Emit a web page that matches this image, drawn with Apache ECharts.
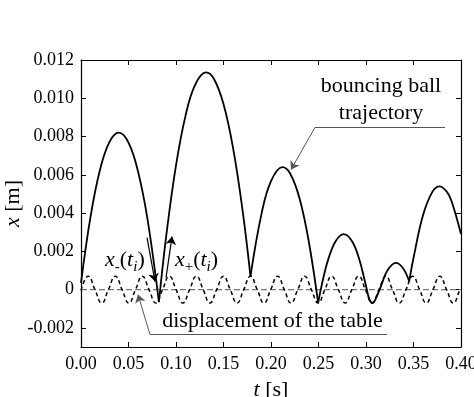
<!DOCTYPE html>
<html>
<head>
<meta charset="utf-8">
<script src="https://cdn.jsdelivr.net/npm/echarts@6/dist/echarts.min.js"></script>
<style>
  html, body { margin: 0; padding: 0; background: #fff; }
  #chart { width: 474px; height: 397px; }
</style>
</head>
<body>
<div id="chart"></div>
<script>
// tick labels
const xTickValues = [0, 0.05, 0.1, 0.15, 0.2, 0.25, 0.3, 0.35, 0.4];
const yTickValues = [-0.002, 0, 0.002, 0.004, 0.006, 0.008, 0.01, 0.012];

// displacement of the table [t, x]
const tableDisplacement = [
  [0, -0.00005], [0.0076, 0.0007],
  [0.0147, 0], [0.0218, -0.0007], [0.0289, 0], [0.0361, 0.0007],
  [0.0432, 0], [0.0503, -0.0007], [0.0574, 0], [0.0645, 0.0007],
  [0.0716, 0], [0.0787, -0.0007], [0.0858, 0], [0.093, 0.0007],
  [0.1001, 0], [0.1072, -0.0007], [0.1143, 0], [0.1215, 0.0007],
  [0.1286, 0], [0.1357, -0.0007], [0.1428, 0], [0.1499, 0.0007],
  [0.1571, 0], [0.1642, -0.0007], [0.1713, 0], [0.1784, 0.0007],
  [0.1855, 0], [0.1926, -0.0007], [0.1997, 0], [0.2069, 0.0007],
  [0.214, 0], [0.2211, -0.0007], [0.2282, 0], [0.2354, 0.0007],
  [0.2425, 0], [0.2496, -0.0007], [0.2567, 0], [0.2638, 0.0007],
  [0.2709, 0], [0.278, -0.0007], [0.2851, 0], [0.2923, 0.0007],
  [0.2994, 0], [0.3065, -0.0007], [0.3136, 0], [0.3208, 0.0007],
  [0.3279, 0], [0.335, -0.0007], [0.3421, 0], [0.3492, 0.0007],
  [0.3564, 0], [0.3634, -0.0007], [0.3705, 0], [0.3777, 0.0007],
  [0.3848, 0], [0.3919, -0.0007], [0.399, 0], [0.4, 0.00005]
];

// bouncing ball trajectory, one array per flight between impacts [t, x]
const ballFlight1 = [[0, 0.00035], [0.01, 0.0038], [0.02, 0.00626], [0.03, 0.00772], [0.0398, 0.0082],
  [0.05, 0.00768], [0.06, 0.00618], [0.07, 0.00368], [0.082, -0.00065]];
const ballFlight2 = [[0.082, -0.00065], [0.09, 0.00292], [0.1, 0.00649], [0.11, 0.00908], [0.12, 0.01069],
  [0.1316, 0.01135], [0.14, 0.01101], [0.15, 0.0097], [0.16, 0.00742], [0.17, 0.00417], [0.1784, 0.0007]];
const ballFlight3 = [[0.1784, 0.0007], [0.19, 0.00396], [0.2, 0.00567], [0.212, 0.0064], [0.22, 0.00608],
  [0.23, 0.00477], [0.24, 0.00245], [0.2496, -0.0007]];
const ballFlight4 = [[0.2496, -0.0007], [0.255, 0.00059], [0.26, 0.00154], [0.268, 0.00253], [0.2766, 0.0029],
  [0.285, 0.00255], [0.2925, 0.00165], [0.2995, 0.0003], [0.3035, -0.0005], [0.3068, -0.0007], [0.31, -0.0005],
  [0.316, 0.00021], [0.3225, 0.001], [0.3315, 0.0014], [0.339, 0.00112], [0.3455, 0.00043]];
const ballFlight5 = [[0.3455, 0.00043], [0.35, 0.00165], [0.36, 0.00388], [0.37, 0.00512], [0.3775, 0.0054],
  [0.385, 0.00512], [0.39, 0.00463], [0.4, 0.0029]];
const ballFlights = [ballFlight1, ballFlight2, ballFlight3, ballFlight4, ballFlight5];

// annotations (leader lines and labels, in data units)
const leaderBallLine = [[0.3832, 0.00848], [0.2463, 0.00848]];
const leaderBallArrow = [[0.2463, 0.00848], [0.2211, 0.00627]];
const leaderTableLine = [[0.3221, -0.00235], [0.0726, -0.00235]];
const leaderTableArrow = [[0.0726, -0.00235], [0.06, -0.00026]];
const arrowMinus = [[0.0695, 0.00272], [0.0779, 0.00042]];
const arrowPlus = [[0.0895, 0.00063], [0.0958, 0.00277]];

const serif = "Liberation Serif";
const chart = echarts.init(document.getElementById("chart"));

const frameAxis = {
  axisLine: { show: true, onZero: false, lineStyle: { color: "#000", width: 1.2 } },
  axisTick: { show: true, inside: true, length: 5, lineStyle: { color: "#000", width: 1 } },
  splitLine: { show: false },
};

const ballSeries = ballFlights.map((flight) => {
  return {
    type: "line",
    data: flight,
    smooth: 0.4,
    symbol: "none",
    lineStyle: { color: "#000", width: 1.8 },
    z: 4,
  };
});

chart.setOption({
  animation: false,
  grid: { left: 81, right: 13, top: 60, bottom: 50, containLabel: false, outerBoundsMode: "none" },
  xAxis: [
    {
      ...frameAxis,
      type: "value",
      min: 0,
      max: 0.4,
      interval: 0.05,
      position: "bottom",
      axisLabel: {
        color: "#000",
        fontFamily: serif,
        fontSize: 18,
        margin: 8,
        formatter: (v) => v.toFixed(2),
      },
      name: "{i|t} [s]",
      nameLocation: "middle",
      nameMoveOverlap: false,
      nameGap: 32,
      nameTextStyle: {
        color: "#000",
        fontFamily: serif,
        fontSize: 22,
        rich: { i: { fontStyle: "italic", fontFamily: serif, fontSize: 22 } },
      },
    },
    {
      ...frameAxis,
      type: "value",
      min: 0,
      max: 0.4,
      interval: 0.05,
      position: "top",
      axisLabel: { show: false },
    },
  ],
  yAxis: [
    {
      ...frameAxis,
      type: "value",
      min: -0.003,
      max: 0.012,
      position: "left",
      axisTick: { ...frameAxis.axisTick, customValues: yTickValues },
      axisLabel: {
        color: "#000",
        fontFamily: serif,
        fontSize: 18,
        margin: 7,
        customValues: yTickValues,
        formatter: (v) => (Math.abs(v) < 1e-9 ? "0" : v.toFixed(3)),
      },
      name: "{i|x} [m]",
      nameLocation: "middle",
      nameRotate: 90,
      nameMoveOverlap: false,
      nameGap: 57,
      nameTextStyle: {
        color: "#000",
        fontFamily: serif,
        fontSize: 22,
        rich: { i: { fontStyle: "italic", fontFamily: serif, fontSize: 22 } },
      },
    },
    {
      ...frameAxis,
      type: "value",
      min: -0.003,
      max: 0.012,
      position: "right",
      axisTick: { ...frameAxis.axisTick, customValues: yTickValues },
      axisLabel: { show: false },
    },
  ],
  series: [
    {
      type: "line",
      data: [[0, 0], [0.4, 0]],
      symbol: "none",
      lineStyle: { color: "#777", width: 1.2, type: [6, 3] },
      z: 1,
    },
    {
      type: "line",
      data: tableDisplacement,
      smooth: 0.5,
      symbol: "none",
      lineStyle: { color: "#000", width: 1.5, type: [4, 3] },
      z: 2,
    },
    ...ballSeries,
    {
      type: "lines",
      coordinateSystem: "cartesian2d",
      symbol: ["none", "none"],
      lineStyle: { color: "#555", width: 1, opacity: 1 },
      data: [{ coords: leaderBallLine }, { coords: leaderTableLine }],
      z: 5,
    },
    {
      type: "lines",
      coordinateSystem: "cartesian2d",
      symbol: ["none", "arrow"],
      symbolSize: 8,
      lineStyle: { color: "#555", width: 1, opacity: 1 },
      data: [{ coords: leaderBallArrow }, { coords: leaderTableArrow }],
      z: 5,
    },
    {
      type: "lines",
      coordinateSystem: "cartesian2d",
      symbol: ["none", "arrow"],
      symbolSize: 8,
      lineStyle: { color: "#000", width: 1.2, opacity: 1 },
      data: [{ coords: arrowMinus }, { coords: arrowPlus }],
      z: 5,
    },
  ],
});

// text labels placed through the chart's own scales
const px = (p) => chart.convertToPixel({ gridIndex: 0 }, p);
const labelFont = { fontFamily: serif, fontSize: 22, fill: "#000" };
const subRich = {
  i: { fontStyle: "italic", fontFamily: serif, fontSize: 22, lineHeight: 27 },
  n: { fontFamily: serif, fontSize: 22, lineHeight: 27 },
  s: { fontFamily: serif, fontSize: 15, lineHeight: 27, verticalAlign: "bottom" },
  si: { fontStyle: "italic", fontFamily: serif, fontSize: 15, lineHeight: 27, verticalAlign: "bottom" },
};
const textAt = (p, text, align) => {
  const [x, y] = px(p);
  return {
    type: "text",
    x: x,
    y: y,
    z: 10,
    style: { ...labelFont, text: text, align: align, verticalAlign: "middle" },
  };
};
const richAt = (p, text) => {
  const [x, y] = px(p);
  return {
    type: "text",
    x: x,
    y: y,
    z: 10,
    style: { text: text, rich: subRich, align: "left", verticalAlign: "middle", fill: "#000" },
  };
};
chart.setOption({
  graphic: [
    textAt([0.3158, 0.01065], "bouncing ball", "center"),
    textAt([0.3158, 0.00922], "trajectory", "center"),
    textAt([0.2016, -0.00167], "displacement of the table", "center"),
    richAt([0.0253, 0.00151], "{i|x}{s|-}{n|(}{i|t}{si|i}{n|)}"),
    richAt([0.0989, 0.00151], "{i|x}{s|+}{n|(}{i|t}{si|i}{n|)}"),
  ],
});

window.addEventListener("resize", () => {
  chart.resize();
});
</script>
</body>
</html>
